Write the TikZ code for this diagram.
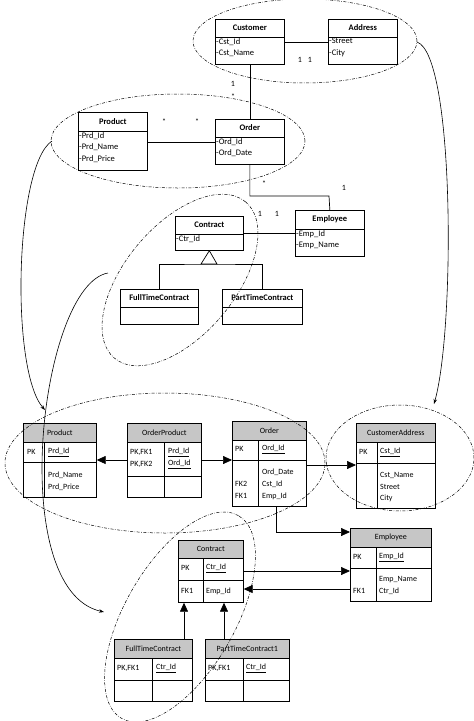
\documentclass[tikz,border=0pt]{standalone}
\usepackage{fontspec}
\setmainfont{Carlito}
\usetikzlibrary{positioning, calc, arrows.meta}

\tikzset{
    box/.style={draw, line width=0.7pt, inner sep=0pt, anchor=north west},
    ttl/.style={font=\fontsize{8.5}{10}\selectfont\bfseries, inner sep=0pt},
    attr/.style={font=\fontsize{8.5}{11.5}\selectfont, align=left, inner sep=1pt, anchor=north west},
    cell/.style={font=\fontsize{8}{10}\selectfont, inner sep=0pt, anchor=west},
    group/.style={draw, line width=0.5pt, dash pattern=on 3pt off 1.5pt on 0.6pt off 1.5pt},
    link/.style={line width=0.7pt},
    fk/.style={line width=0.7pt, -{Triangle[length=9pt,width=8pt]}},
    jump/.style={line width=0.6pt, -{Stealth[length=5pt,width=3.5pt]}}
}

% UML class: name, x, y, width, height, header, title, attributes
\newcommand\umlcls[8]{
    \node[box, minimum width=#4pt, minimum height=#5pt] (#1) at (#2,#3) {};
    \draw[line width=0.7pt] ([yshift=-#6pt]#1.north west) -- ([yshift=-#6pt]#1.north east);
    \node[ttl] (#1-t) at ([yshift={-0.5*#6pt}]#1.north) {#7};
    \node[attr] (#1-a) at ([yshift=-#6pt]#1.north west) {#8};
}
% relational table: name, x, y, width, height, header, row line, column, title
\newcommand\ertab[9]{
    \node[box, minimum width=#4pt, minimum height=#5pt, fill=white] (#1) at (#2,#3) {};
    \fill[gray!45] (#1.north west) rectangle ([yshift=-#6pt]#1.north east);
    \draw[line width=0.7pt] (#1.north west) rectangle (#1.south east);
    \draw[line width=0.7pt] ([yshift=-#6pt]#1.north west) -- ([yshift=-#6pt]#1.north east);
    \draw[line width=0.7pt] ([yshift=-#7pt]#1.north west) -- ([yshift=-#7pt]#1.north east);
    \draw[line width=0.7pt] ([shift={(#8pt,-#6pt)}]#1.north west) -- ([xshift=#8pt]#1.south west);
    \node[font=\fontsize{8}{10}\selectfont, inner sep=0pt] (#1-t) at ([yshift={-0.5*#6pt}]#1.north) {#9};
}

\begin{document}
\begin{tikzpicture}[x=1pt, y=-1pt]
    \useasboundingbox (0,0) rectangle (474,721);

    % class diagram
    \umlcls{cust}{215}{19}{69}{45}{18}{Customer}{-Cst\_Id\\-Cst\_Name}
    \umlcls{addr}{328}{19}{69}{45}{18}{Address}{-Street\\-City}
    \umlcls{prod}{78}{112}{69}{58}{19}{Product}{-Prd\_Id\\-Prd\_Name\\-Prd\_Price}
    \umlcls{ord}{215}{119}{69}{45}{18}{Order}{-Ord\_Id\\-Ord\_Date}
    \umlcls{emp}{295}{210}{69}{46}{19}{Employee}{-Emp\_Id\\-Emp\_Name}
    \umlcls{ctr}{175}{216}{68}{34}{18}{Contract}{-Ctr\_Id}
    \umlcls{ftc}{120}{289}{78}{35}{18}{FullTimeContract}{}
    \umlcls{ptc}{222}{289}{80}{35}{18}{PartTimeContract}{}

    \draw[link] (cust.east |- 0,42) -- (addr.west |- 0,42);
    \draw[link] (cust.south) -- (ord.north);
    \draw[link] (prod.east |- 0,142) -- (ord.west |- 0,142);
    \draw[link] (ord.south) |- (329,196) -- (emp.north);
    \draw[link] (ctr.east |- 0,233) -- (emp.west |- 0,233);
    \coordinate (gen) at (209,264);
    \draw[link] (ftc.north) |- (gen) -| (ptc.north);
    \draw[link, fill=white] (ctr.south) -- (201,264) -- (217,264) -- cycle;

    \foreach \lx/\ly/\lt in {300/60/1, 310/60/1, 233/84/1, 233/97/*, 164/122/*, 197/122/*,
                             264/184/*, 344/188/1, 260/214/1, 277/214/1}
        \node[font=\fontsize{8}{9}\selectfont, inner sep=0pt] at (\lx,\ly) {\lt};

    % relational tables
    \ertab{prodr}{23}{423}{73}{74}{19}{39}{21}{Product}
    \ertab{opr}{127}{423}{74}{74}{19}{53}{37}{OrderProduct}
    \ertab{ordr}{232}{421}{74}{85}{19}{39}{26}{Order}
    \ertab{car}{356}{423}{79}{85}{19}{40}{21}{CustomerAddress}
    \ertab{empr}{350}{528}{81}{73}{19}{40}{26}{Employee}
    \ertab{ctrr}{178}{540}{65}{62}{18}{40}{25}{Contract}
    \ertab{ftcr}{114}{639}{78}{62}{19}{41}{38}{FullTimeContract}
    \ertab{ptcr}{205}{639}{84}{62}{19}{41}{38}{PartTimeContract1}

    \foreach \cx/\cy/\ct in {27/452/PK, 48/452/\underline{Prd\_Id}, 48/475/Prd\_Name, 48/487/Prd\_Price,
            130/452/{PK,FK1}, 130/464/{PK,FK2}, 168/452/\underline{Prd\_Id}, 168/464/\underline{Ord\_Id},
            235/449/PK, 262/449/\underline{Ord\_Id}, 262/472/Ord\_Date, 262/484/Cst\_Id, 262/496/Emp\_Id,
            235/484/FK2, 235/496/FK1,
            359/452/PK, 380/452/\underline{Cst\_Id}, 380/475/Cst\_Name, 380/487/Street, 380/498/City,
            353/557/PK, 379/557/\underline{Emp\_Id}, 379/580/Emp\_Name, 379/591/Ctr\_Id, 353/591/FK1,
            181/568/PK, 206/568/\underline{Ctr\_Id}, 181/591/FK1, 206/591/Emp\_Id,
            117/668/{PK,FK1}, 156/668/\underline{Ctr\_Id}, 208/668/{PK,FK1}, 246/668/\underline{Ctr\_Id}}
        \node[cell] at (\cx,\cy) {\ct};

    \draw[fk] (opr.west |- 0,460) -- (prodr.east |- 0,460);
    \draw[fk] (opr.east |- 0,460) -- (ordr.west |- 0,460);
    \draw[fk] (ordr.east |- 0,465) -- (car.west |- 0,465);
    \draw[fk] (276,506) |- (empr.west |- 0,532);
    \draw[fk] (ctrr.east |- 0,571) -- (empr.west |- 0,571);
    \draw[fk] (empr.west |- 0,589) -- (ctrr.east |- 0,589);
    \draw[fk] (ftcr.north -| 184,0) -- (ctrr.south -| 184,0);
    \draw[fk] (ptcr.north -| 224,0) -- (ctrr.south -| 224,0);

    % groups
    \draw[group] (305,41) ellipse [x radius=112pt, y radius=42pt];
    \draw[group] (178,141) ellipse [x radius=127pt, y radius=47pt];
    \draw[group, rotate around={50:(180,280)}] (180,280) ellipse [x radius=102pt, y radius=55pt];
    \draw[group] (165,463) ellipse [x radius=160pt, y radius=70pt];
    \draw[group] (400,458) ellipse [x radius=74pt, y radius=53pt];
    \draw[group, rotate around={60:(180,617)}] (180,617) ellipse [x radius=117pt, y radius=55pt];

    \coordinate (g1) at (417,42);
    \coordinate (g1e) at (434,404);
    \coordinate (g2) at (52,141);
    \coordinate (g2e) at (45,410);
    \coordinate (g3) at (108,273);
    \coordinate (g3e) at (104,612);
    \draw[jump] (g1) .. controls (455,55) and (455,330) .. (g1e);
    \draw[jump] (g2) .. controls (15,165) and (10,370) .. (g2e);
    \draw[jump] (g3) .. controls (40,285) and (5,590) .. (g3e);
\end{tikzpicture}
\end{document}
